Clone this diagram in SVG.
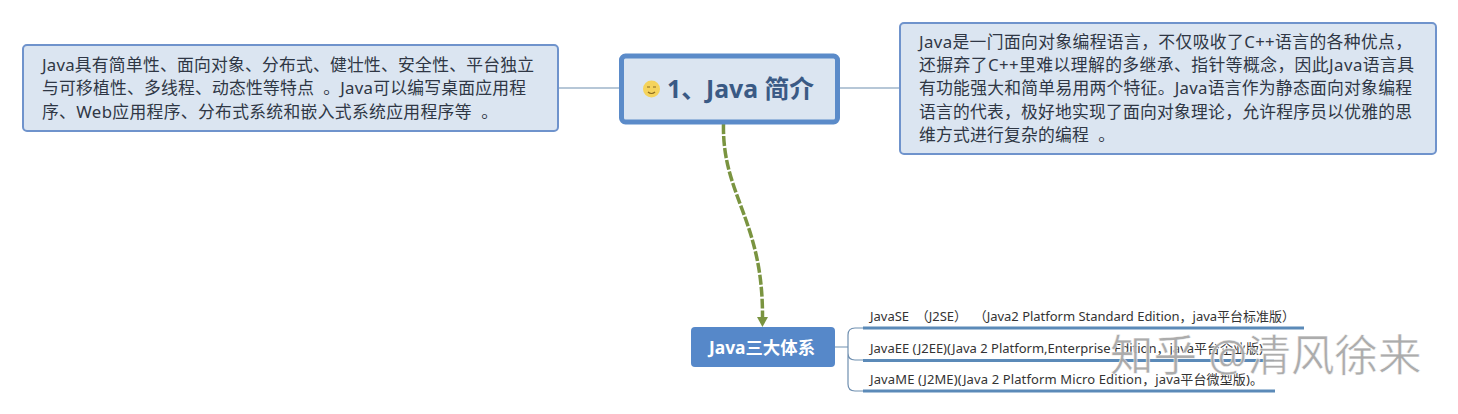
<svg xmlns="http://www.w3.org/2000/svg" width="1458" height="414" viewBox="0 0 1458 414">
<style>
text{font-family:"Noto Sans","Noto Sans CJK SC",sans-serif;white-space:pre}
.note{fill:#dbe5f1;stroke:#6f93cc;stroke-width:2}
.nt{font-size:16.800px;fill:#2f3745}
.sub{font-size:13px;fill:#333}
.line{fill:none;stroke:#6f8fb0;stroke-width:1.200}
.ul{stroke:#5b8ab8;stroke-width:3;fill:none}
</style>
<defs>
<marker id="arr" markerUnits="userSpaceOnUse" markerWidth="12" markerHeight="12" refX="0" refY="5.500" orient="auto"><path d="M0 0L10 5.500L0 11Z" fill="#7a9440"/></marker>
</defs>
<rect width="1458" height="414" fill="#fff"/>
<g id="connectors">
<path class="line" d="M558 88H620"/>
<path class="line" d="M839 88H900"/>
<path d="M723.500 124C722 195 763 220 762.500 317" fill="none" stroke="#7a9440" stroke-width="3.500" stroke-dasharray="10 2" marker-end="url(#arr)"/>
<path class="line" d="M835 347H848M863 328H855Q848 328 848 335V353Q848 360 855 360H863M848 353V384Q848 391 855 391H863"/>
</g>
<g id="left-note">
<rect class="note" x="23" y="45" width="535" height="86" rx="4"/>
<text class="nt" x="42" y="71" textLength="492">Java具有简单性、面向对象、分布式、健壮性、安全性、平台独立</text>
<text class="nt" x="42" y="94" textLength="484">与可移植性、多线程、动态性等特点  。Java可以编写桌面应用程</text>
<text class="nt" x="42" y="118" textLength="456">序、Web应用程序、分布式系统和嵌入式系统应用程序等  。</text>
</g>
<g id="central">
<rect x="621.500" y="56" width="216" height="66" rx="4" fill="#dbe5f1" stroke="#5b8bc9" stroke-width="5"/>
<circle cx="651.500" cy="89" r="8.500" fill="#f5d35c"/>
<path d="M647 87h3M653 87h3M648 92q3.500 3 7 0" fill="none" stroke="#8a6a20" stroke-width="1.200"/>
<text x="667" y="98" font-size="24.800" font-weight="700" fill="#3a5a85">1、Java 简介</text>
</g>
<g id="right-note">
<rect class="note" x="900" y="23" width="536" height="131" rx="4"/>
<text class="nt" x="919" y="48" textLength="493">Java是一门面向对象编程语言，不仅吸收了C++语言的各种优点，</text>
<text class="nt" x="919" y="71" textLength="495">还摒弃了C++里难以理解的多继承、指针等概念，因此Java语言具</text>
<text class="nt" x="919" y="94" textLength="493">有功能强大和简单易用两个特征。Java语言作为静态面向对象编程</text>
<text class="nt" x="919" y="118" textLength="493">语言的代表，极好地实现了面向对象理论，允许程序员以优雅的思</text>
<text class="nt" x="919" y="141" textLength="196">维方式进行复杂的编程  。</text>
</g>
<g id="system">
<rect x="691" y="327" width="144" height="40" rx="4" fill="#5688c9"/>
<text x="762" y="354" font-size="17.400" font-weight="700" fill="#fff" text-anchor="middle">Java三大体系</text>
</g>
<g id="se">
<text class="sub" x="870" y="321" textLength="425">JavaSE  （J2SE）  （Java2 Platform Standard Edition，java平台标准版）</text>
<path class="ul" d="M863 328H1304"/>
</g>
<g id="ee">
<text class="sub" x="870" y="353" textLength="393">JavaEE (J2EE)(Java 2 Platform,Enterprise Edition，java平台企业版)</text>
<path class="ul" d="M863 360.500H1274"/>
</g>
<g id="me">
<text class="sub" x="870" y="384" textLength="393">JavaME (J2ME)(Java 2 Platform Micro Edition，java平台微型版)。</text>
<path class="ul" d="M863 391H1275"/>
</g>
<text x="1110" y="371" font-size="43.500" fill="#a8a8a8" stroke="#fff" stroke-width="0.500" opacity="0.950">知乎 @清风徐来</text>
</svg>
